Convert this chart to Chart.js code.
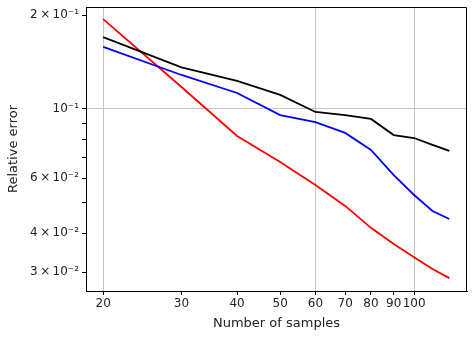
<!DOCTYPE html>
<html>
<head>
<meta charset="utf-8">
<script src="https://cdn.jsdelivr.net/npm/chart.js@4"></script>
<style>
  html, body { margin: 0; padding: 0; background: #fff; }
  #wrap { width: 474px; height: 338px; }
</style>
</head>
<body>
<div id="wrap"><canvas id="errChart"></canvas></div>
<script>
// sample counts (x) and relative errors per method (y)
const samples = [20, 30, 40, 50, 60, 70, 80, 90, 100, 110, 120];
const errBlack = [0.170, 0.136, 0.123, 0.111, 0.0978, 0.0956, 0.0929, 0.0825, 0.0807, 0.0767, 0.0734];
const errBlue = [0.158, 0.1285, 0.1125, 0.0956, 0.0908, 0.0838, 0.0739, 0.0614, 0.0530, 0.0471, 0.0444];
const errRed = [0.194, 0.1176, 0.0819, 0.0676, 0.0571, 0.0489, 0.0416, 0.0369, 0.0335, 0.0307, 0.0287];

const xTicks = [20, 30, 40, 50, 60, 70, 80, 90, 100];
const xGridAt = [20, 60, 100];
const yTicks = [0.03, 0.04, 0.05, 0.06, 0.07, 0.08, 0.09, 0.1, 0.2];
const yTickLabels = ['3\u2009×\u200910⁻²', '4\u2009×\u200910⁻²', '', '6\u2009×\u200910⁻²', '', '', '', '10⁻¹', '2\u2009×\u200910⁻¹'];
const yGridAt = [0.1];

const tickFont = { family: 'DejaVu Sans', size: 12 };
const titleFont = { family: 'DejaVu Sans', size: 13 };
const gridGray = '#c4c4c4';

function pts(ys) {
    return samples.map((x, i) => ({ x: x, y: ys[i] }));
}

function line(data, color) {
    return {
        data: pts(data),
        borderColor: color,
        borderWidth: 1.8,
        pointRadius: 0,
        tension: 0,
        fill: false
    };
}

// top and right spines, the axes draw the other two
const frame = {
    id: 'frame',
    afterDraw(chart) {
        const a = chart.chartArea;
        const ctx = chart.ctx;
        ctx.save();
        ctx.strokeStyle = '#000';
        ctx.lineWidth = 1;
        ctx.beginPath();
        ctx.moveTo(a.left, a.top + 0.5);
        ctx.lineTo(a.right - 0.5, a.top + 0.5);
        ctx.lineTo(a.right - 0.5, a.bottom);
        ctx.stroke();
        ctx.restore();
    }
};

new Chart(document.getElementById('errChart').getContext('2d'), {
    type: 'line',
    data: {
        datasets: [line(errBlack, '#000000'), line(errBlue, '#0000ff'), line(errRed, '#ff0000')]
    },
    options: {
        responsive: true,
        maintainAspectRatio: false,
        animation: false,
        layout: { padding: { left: 0, top: 7, right: 7, bottom: 0 } },
        plugins: { legend: { display: false }, tooltip: { enabled: false } },
        scales: {
            x: {
                type: 'logarithmic',
                min: 18.3,
                max: 131.5,
                afterBuildTicks: s => { s.ticks = xTicks.map(v => ({ value: v })); },
                afterFit: s => { s.height = 47; s.paddingLeft = 0; s.paddingRight = 0; },
                ticks: {
                    color: '#222',
                    font: tickFont,
                    padding: 2,
                    maxRotation: 0,
                    autoSkip: false,
                    callback: v => String(v)
                },
                grid: {
                    color: c => (c.tick && xGridAt.includes(c.tick.value)) ? gridGray : 'rgba(0,0,0,0)',
                    tickColor: '#000',
                    tickLength: 4,
                    lineWidth: 1
                },
                border: { color: '#000' },
                title: {
                    display: true,
                    text: 'Number of samples',
                    color: '#222',
                    font: titleFont,
                    padding: { top: 0, bottom: 7 }
                }
            },
            y: {
                type: 'logarithmic',
                min: 0.0261,
                max: 0.2122,
                afterBuildTicks: s => { s.ticks = yTicks.map(v => ({ value: v })); },
                afterFit: s => { s.width = 86; s.paddingTop = 0; s.paddingBottom = 0; },
                ticks: {
                    color: '#222',
                    font: tickFont,
                    padding: 3,
                    autoSkip: false,
                    callback: (v, i) => yTickLabels[i]
                },
                grid: {
                    color: c => (c.tick && yGridAt.includes(c.tick.value)) ? gridGray : 'rgba(0,0,0,0)',
                    tickColor: '#000',
                    tickLength: 4,
                    lineWidth: 1
                },
                border: { color: '#000' },
                title: {
                    display: true,
                    text: 'Relative error',
                    color: '#222',
                    font: titleFont,
                    padding: { top: 6, bottom: 0 }
                }
            }
        }
    },
    plugins: [frame]
});
</script>
</body>
</html>
